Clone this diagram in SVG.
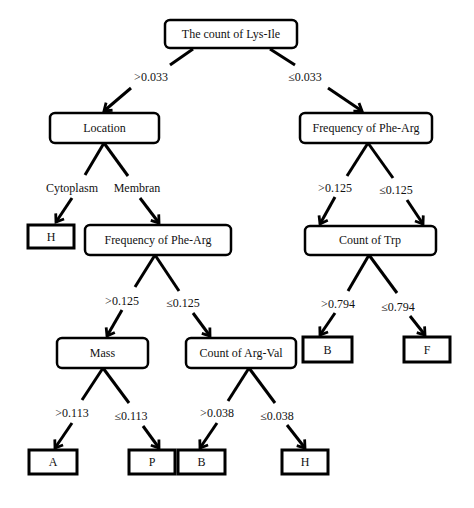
<svg xmlns="http://www.w3.org/2000/svg" width="474" height="508" viewBox="0 0 474 508">
<defs>
<style>
.dn{fill:#fff;stroke:#000;stroke-width:2.5}
.lf{fill:#fff;stroke:#000;stroke-width:3}
text{font-family:"Liberation Serif","Times New Roman",serif;font-size:12px;fill:#111;text-anchor:middle}
.ln{stroke:#000;stroke-width:3;fill:none}
.ar{stroke:#000;stroke-width:3;fill:none;marker-end:url(#ah)}
</style>
<marker id="ah" markerUnits="userSpaceOnUse" markerWidth="14" markerHeight="14" refX="9" refY="6" orient="auto" overflow="visible">
<path d="M2,1 L9,6 L2,11" fill="none" stroke="#000" stroke-width="2.8" stroke-linejoin="miter"/>
</marker>
</defs>
<rect width="474" height="508" fill="#fff"/>
<g id="connectors">
<line class="ln" x1="193" y1="49" x2="170" y2="65"/>
<line class="ar" x1="131" y1="88" x2="104" y2="111"/>
<text x="151" y="81">&gt;0.033</text>
<line class="ln" x1="270" y1="49" x2="295" y2="65"/>
<line class="ar" x1="328" y1="88" x2="362" y2="111"/>
<text x="305" y="81">≤0.033</text>
<line class="ln" x1="104" y1="143" x2="85" y2="175"/>
<line class="ar" x1="72" y1="198" x2="56" y2="222"/>
<text x="72" y="192">Cytoplasm</text>
<line class="ln" x1="104" y1="143" x2="128" y2="176"/>
<line class="ar" x1="140" y1="198" x2="159" y2="223"/>
<text x="137" y="192">Membran</text>
<line class="ln" x1="368" y1="143" x2="347" y2="176"/>
<line class="ar" x1="335" y1="197" x2="320" y2="224"/>
<text x="335" y="192">&gt;0.125</text>
<line class="ln" x1="368" y1="143" x2="393" y2="178"/>
<line class="ar" x1="407" y1="200" x2="423" y2="224"/>
<text x="396" y="194">≤0.125</text>
<line class="ln" x1="155" y1="255" x2="135" y2="287"/>
<line class="ar" x1="122" y1="310" x2="107" y2="336"/>
<text x="122" y="305">&gt;0.125</text>
<line class="ln" x1="155" y1="255" x2="179" y2="291"/>
<line class="ar" x1="193" y1="313" x2="210" y2="336"/>
<text x="183" y="307">≤0.125</text>
<line class="ln" x1="369" y1="255" x2="348" y2="291"/>
<line class="ar" x1="335" y1="313" x2="320" y2="335"/>
<text x="338" y="308">&gt;0.794</text>
<line class="ln" x1="369" y1="255" x2="397" y2="293"/>
<line class="ar" x1="410" y1="316" x2="425" y2="335"/>
<text x="398" y="311">≤0.794</text>
<line class="ln" x1="103" y1="368" x2="82" y2="400"/>
<line class="ar" x1="72" y1="423" x2="55" y2="448"/>
<text x="72" y="417">&gt;0.113</text>
<line class="ln" x1="103" y1="368" x2="129" y2="403"/>
<line class="ar" x1="143" y1="426" x2="159" y2="448"/>
<text x="131" y="420">≤0.113</text>
<line class="ln" x1="249" y1="368" x2="228" y2="401"/>
<line class="ar" x1="217" y1="423" x2="200" y2="448"/>
<text x="217" y="417">&gt;0.038</text>
<line class="ln" x1="249" y1="368" x2="275" y2="403"/>
<line class="ar" x1="287" y1="425" x2="305" y2="448"/>
<text x="277" y="420">≤0.038</text>
</g>
<g id="n1"><rect class="dn" x="165" y="20" width="132" height="28" rx="5"/><text x="231" y="38">The count of Lys-Ile</text></g>
<g id="n2"><rect class="dn" x="50" y="113" width="109" height="30" rx="5"/><text x="104.5" y="132">Location</text></g>
<g id="n3"><rect class="dn" x="300" y="113" width="132" height="30" rx="5"/><text x="366" y="132">Frequency of Phe-Arg</text></g>
<g id="n4"><rect class="lf" x="28" y="225" width="46" height="23"/><text x="51" y="241">H</text></g>
<g id="n5"><rect class="dn" x="85" y="225" width="146" height="30" rx="5"/><text x="158" y="244">Frequency of Phe-Arg</text></g>
<g id="n6"><rect class="dn" x="305" y="226" width="131" height="29" rx="5"/><text x="370" y="244">Count of Trp</text></g>
<g id="n7"><rect class="dn" x="57" y="338" width="91" height="30" rx="5"/><text x="102.5" y="357">Mass</text></g>
<g id="n8"><rect class="dn" x="186" y="338" width="110" height="30" rx="5"/><text x="241" y="357">Count of Arg-Val</text></g>
<g id="n9"><rect class="lf" x="303" y="337" width="49" height="25"/><text x="327.5" y="354">B</text></g>
<g id="n10"><rect class="lf" x="404" y="337" width="46" height="25"/><text x="427" y="354">F</text></g>
<g id="n11"><rect class="lf" x="29" y="450" width="48" height="24"/><text x="53" y="466">A</text></g>
<g id="n12"><rect class="lf" x="129" y="450" width="46" height="24"/><text x="152" y="466">P</text></g>
<g id="n13"><rect class="lf" x="178" y="450" width="47" height="24"/><text x="201.5" y="466">B</text></g>
<g id="n14"><rect class="lf" x="282" y="450" width="46" height="24"/><text x="305" y="466">H</text></g>
</svg>
